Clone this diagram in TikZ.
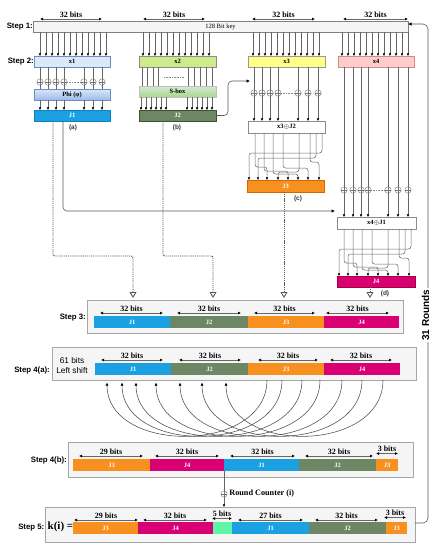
\documentclass[tikz,border=0pt]{standalone}
\usepackage{fontspec}
\setmainfont{Liberation Serif}
\setsansfont{Liberation Sans}
\usetikzlibrary{arrows.meta,calc}
\definecolor{cJone}{HTML}{1BA1E2}\definecolor{cJoneB}{HTML}{0E7FBF}
\definecolor{cJtwo}{HTML}{6D8764}\definecolor{cJtwoB}{HTML}{3A5431}
\definecolor{cJthree}{HTML}{F7901E}\definecolor{cJthreeB}{HTML}{D06A00}
\definecolor{cJfour}{HTML}{D80073}\definecolor{cJfourB}{HTML}{A50040}
\definecolor{cMint}{HTML}{60F5A8}
\definecolor{cXone}{HTML}{DAE8FC}\definecolor{cXoneB}{HTML}{6C8EBF}
\definecolor{cPhiB}{HTML}{9DBCEA}
\definecolor{cXtwo}{HTML}{CDEB8B}
\definecolor{cSA}{HTML}{D5E8D4}\definecolor{cSB}{HTML}{A8D88E}
\definecolor{cXthree}{HTML}{FFFF88}
\definecolor{cXfour}{HTML}{FFCCCC}\definecolor{cXfourB}{HTML}{D08A8A}
\tikzset{
 panel/.style={draw=black!35,fill=black!4,line width=0.8pt,inner sep=0pt,outer sep=0pt},
 keybar/.style={draw=black!50,fill=black!4,line width=0.5pt,inner sep=0pt,outer sep=0pt,font=\fontsize{6.5}{7}\selectfont},
 bar/.style={inner sep=0pt,outer sep=0pt,line width=0.3pt,text=white,font=\bfseries\fontsize{6.5}{7}\selectfont},
 xbox/.style={inner sep=0pt,outer sep=0pt,line width=0.5pt,font=\bfseries\fontsize{6.5}{7}\selectfont},
 steplbl/.style={font=\sffamily\bfseries\fontsize{7.8}{9}\selectfont,inner sep=0pt},
 bits/.style={font=\bfseries\fontsize{8}{9}\selectfont,inner sep=1.5pt,anchor=south},
 dimar/.style={draw=black!60,line width=0.6pt,{Latex[length=3pt,width=3pt,color=black]}-{Latex[length=3pt,width=3pt,color=black]}},
 bus/.style={draw=black!60,line width=0.5pt},
 busar/.style={bus,-{Latex[length=2.6pt,width=2.6pt,color=black]}},
 xorc/.style={circle,draw=black!55,fill=white,line width=0.4pt,minimum size=6.4pt,inner sep=0pt,outer sep=0pt,
   path picture={\draw[black!55,line width=0.4pt] (path picture bounding box.north) -- (path picture bounding box.south) (path picture bounding box.west) -- (path picture bounding box.east);}},
 dotsep/.style={draw=black!45,line width=0.4pt,dash pattern=on 0.8pt off 0.8pt},
 dotc/.style={draw=black!65,line width=0.9pt,dash pattern=on 1.2pt off 0.9pt,rounded corners=2pt,-{Triangle[open,length=6pt,width=7pt,color=black!65]}},
 conn/.style={draw=black!65,line width=0.6pt,rounded corners=4pt,-{Latex[length=3.5pt,width=3.5pt,color=black]}},
 curv/.style={draw=black!70,line width=0.55pt,-{Latex[length=3pt,width=3pt,color=black]}},
 tag/.style={font=\sffamily\bfseries\fontsize{6.5}{7}\selectfont,text=black!80,inner sep=0pt},
}
\newcommand\mybox[7]{\node[#6,anchor=north west,minimum width={#4pt-#2pt},minimum height={#5pt-#3pt}] (#1) at (#2,#3) {#7};}
\newcommand\dimarrow[5]{\coordinate (#1a) at (#2,#4); \coordinate (#1b) at (#3,#4); \draw[dimar] (#1a) -- (#1b) node[bits,midway] (#1t) {#5};}
\newcommand\mywire[5]{\draw[busar,rounded corners=2.5pt] ([xshift=#3pt]#1.south west) -- ++(0,#4) -| ([xshift=#5pt]#2.north west);}
\begin{document}
\begin{tikzpicture}[x=1pt,y=-1pt]
\useasboundingbox (0,0) rectangle (435,550);
% panels
\mybox{p3}{87}{300}{403}{333}{panel}{}
\mybox{p4a}{52}{347}{416}{380}{panel}{}
\mybox{p4b}{68}{442}{413}{477}{panel}{}
\mybox{p5}{45}{507}{415}{542}{panel}{}
% Step 1
\node[steplbl,anchor=east] (st1) at (33,26.5) {Step 1:};
\mybox{key}{33}{21}{408}{32}{keybar}{128 Bit key}
\dimarrow{da}{40}{102}{19}{32 bits}
\dimarrow{db}{143}{205}{19}{32 bits}
\dimarrow{dc}{252}{315}{19}{32 bits}
\dimarrow{dd}{343}{408}{19}{32 bits}
% Step 2 boxes
\node[steplbl,anchor=east] (st2) at (34,61.5) {Step 2:};
\mybox{x1}{34}{56}{110}{67}{xbox,draw=cXoneB,fill=cXone}{x1}
\mybox{x2}{139}{56}{216}{67}{xbox,draw=black!45,fill=cXtwo}{x2}
\mybox{x3}{248}{56}{325}{67}{xbox,draw=black!40,fill=cXthree}{x3}
\mybox{x4}{338}{56}{414}{67}{xbox,draw=cXfourB,fill=cXfour}{x4}
\foreach \b/\s in {x1/40,x2/143,x3/253,x4/342}{
 \foreach \k in {0,...,11}{
  \pgfmathsetmacro\xx{\s+6*\k}
  \coordinate (tmp) at (\xx,0);
  \draw[busar] (key.south -| tmp) -- (\b.north -| tmp);
 }}
% x1 branch
\mybox{phi}{34}{89}{110}{100}{xbox,draw=cXoneB,top color=cXone,bottom color=cPhiB}{Phi (φ)}
\mybox{J1}{34}{110}{110}{121}{bar,draw=cJoneB,fill=cJone}{J1}
\foreach \x [count=\i] in {40,48,56,64,84,93,102}{
 \node[xorc] (oa\i) at (\x,82) {};
 \draw[bus] (x1.south -| oa\i) -- (oa\i.north);
 \draw[bus] (oa\i.south) -- (phi.north -| oa\i);
 \draw[busar] (phi.south -| oa\i) -- (J1.north -| oa\i);
}
\draw[dotsep] (oa4.east) -- (oa5.west);
% x2 branch
\mybox{sbox}{139}{86}{216}{97}{xbox,draw=black!25,top color=cSA,bottom color=cSB}{S-box}
\mybox{J2}{139}{110}{216}{121}{bar,draw=cJtwoB,fill=cJtwo}{J2}
\foreach \x in {142,147,153,158,188,194,200,206,212}{\coordinate (tmp) at (\x,0); \draw[bus] (x2.south -| tmp) -- (sbox.north -| tmp);}
\foreach \x in {141,146,151,156,161,166,187,192,197,202,207,212}{\coordinate (tmp) at (\x,0); \draw[busar] (sbox.south -| tmp) -- (J2.north -| tmp);}
\coordinate (ds1) at (164,77); \coordinate (ds2) at (184,77);
\draw[dotsep] (ds1) -- (ds2);
% x3 branch
\mybox{xj2}{248}{121}{325}{133}{xbox,draw=black!45,fill=white}{x3$\oplus$J2}
\mybox{J3}{247}{180}{324}{192}{bar,draw=cJthreeB,fill=cJthree}{J3}
\foreach \x [count=\i] in {254,262,270,278,298,308,318}{
 \node[xorc] (oc\i) at (\x,93) {};
 \draw[bus] (x3.south -| oc\i) -- (oc\i.north);
 \draw[busar] (oc\i.south) -- (xj2.north -| oc\i);
}
\draw[dotsep] (oc4.east) -- (oc5.west);
\coordinate (x3in) at (250,81);
\draw[conn] (J2.east) -- ++(12,0) |- (x3in);
% x4 branch
\mybox{xj1}{337}{217}{416}{229}{xbox,draw=black!45,fill=white}{x4$\oplus$J1}
\mybox{J4}{337}{276}{415}{287}{bar,draw=cJfourB,fill=cJfour}{J4}
\foreach \x [count=\i] in {344,353,361,368,388,398,408}{
 \node[xorc] (od\i) at (\x,190) {};
 \draw[bus] (x4.south -| od\i) -- (od\i.north);
 \draw[busar] (od\i.south) -- (xj1.north -| od\i);
}
\draw[dotsep] (od4.east) -- (od5.west);
\coordinate (x4in) at (335,211);
\coordinate (ja) at (63,0);
\draw[conn] (J1.south -| ja) |- (x4in);
% wiring
\foreach \a/\b/\c in {7/34/20,16/38/41,25/41/51,35/35/61,51/39/31,62/29/72,68/25/11,74/20/2}{
 \mywire{xj2}{J3}{\a}{\b}{\c}
 \mywire{xj1}{J4}{\a}{\b}{\c}
}
% tags
\node[tag] (ta) at (73,127.5) {(a)};
\node[tag] (tb) at (177,127.5) {(b)};
\node[tag] (tc) at (298,198.5) {(c)};
\node[tag] (td) at (385,294) {(d)};
% dotted connectors
\coordinate (t1) at (133,298); \coordinate (c53) at (53,0);
\draw[dotc] (J1.south -| c53) -- ++(0,135) -| (t1);
\coordinate (t2) at (213,298); \coordinate (c163) at (163,0);
\draw[dotc] (J2.south -| c163) -- ++(0,135) -| (t2);
\coordinate (t3) at (284,298);
\draw[dotc] (J3.south -| t3) -- (t3);
\coordinate (t4) at (370,298);
\draw[dotc] (J4.south -| t4) -- (t4);
% Step 3
\node[steplbl,anchor=east] (st3) at (86,318) {Step 3:};
\mybox{s3a}{94}{316}{170}{328}{bar,fill=cJone}{J1}
\mybox{s3b}{170}{316}{248}{328}{bar,fill=cJtwo}{J2}
\mybox{s3c}{248}{316}{324}{328}{bar,fill=cJthree}{J3}
\mybox{s3d}{324}{316}{399}{328}{bar,fill=cJfour}{J4}
\dimarrow{ea}{100}{163}{313}{32 bits}
\dimarrow{eb}{177}{241}{313}{32 bits}
\dimarrow{ec}{254}{315}{313}{32 bits}
\dimarrow{ed}{326}{389}{313}{32 bits}
% Step 4a
\node[steplbl,anchor=east] (st4a) at (50,370) {Step 4(a):};
\node[font=\sffamily\fontsize{8.3}{10}\selectfont,align=center,inner sep=0pt] (lsh) at (72,366) {61 bits\\Left shift};
\mybox{s4a}{95}{363}{171}{375}{bar,fill=cJone}{J1}
\mybox{s4b}{171}{363}{248}{375}{bar,fill=cJtwo}{J2}
\mybox{s4c}{248}{363}{324}{375}{bar,fill=cJthree}{J3}
\mybox{s4d}{324}{363}{400}{375}{bar,fill=cJfour}{J4}
\dimarrow{fa}{101}{163}{360}{32 bits}
\dimarrow{fb}{179}{241}{360}{32 bits}
\dimarrow{fc}{258}{318}{360}{32 bits}
\dimarrow{fd}{330}{392}{360}{32 bits}
% shift curves
\foreach \s/\e in {267/107,282/122,302/136,320/156,342/180,362/202,383/226}{
 \coordinate (cs) at (\s,0); \coordinate (ce) at (\e,0);
 \draw[curv] (p4a.south -| cs) .. controls +(0,74) and +(0,72) .. ([yshift=-2.5pt]p4a.south -| ce);
}
% Step 4b
\node[steplbl,anchor=east] (st4b) at (67,460) {Step 4(b):};
\mybox{u1}{73}{459}{150}{471}{bar,fill=cJthree}{J3}
\mybox{u2}{150}{459}{224}{471}{bar,fill=cJfour}{J4}
\mybox{u3}{224}{459}{299}{471}{bar,fill=cJone}{J1}
\mybox{u4}{299}{459}{376}{471}{bar,fill=cJtwo}{J2}
\mybox{u5}{376}{459}{398}{471}{bar,fill=cJthree}{J3}
\dimarrow{ga}{79}{143}{456}{29 bits}
\dimarrow{gb}{155}{219}{456}{32 bits}
\dimarrow{gc}{230}{295}{456}{32 bits}
\dimarrow{gd}{305}{373}{456}{32 bits}
\dimarrow{ge}{376}{398}{453.5}{3 bits}
% round counter
\node[xorc] (rc) at (224,494) {};
\draw[bus] (u3.south west) -- (rc.north);
\draw[busar] (rc.south) -- (p5.north -| rc);
\node[font=\bfseries\fontsize{8.2}{9}\selectfont,anchor=west,inner sep=0pt] (rct) at ([xshift=2pt]rc.east) {Round Counter (i)};
% Step 5
\node[steplbl,anchor=east] (st5) at (44.5,527.5) {Step 5:};
\node[font=\bfseries\fontsize{11}{12}\selectfont,anchor=west,inner sep=0pt] (ki) at (47.5,527) {k(i) =};
\mybox{v1}{73}{522}{138}{534}{bar,fill=cJthree}{J3}
\mybox{v2}{138}{522}{213}{534}{bar,fill=cJfour}{J4}
\mybox{v3}{213}{522}{232}{534}{bar,fill=cMint}{}
\mybox{v4}{232}{522}{309}{534}{bar,fill=cJone}{J1}
\mybox{v5}{309}{522}{386}{534}{bar,fill=cJtwo}{J2}
\mybox{v6}{386}{522}{407}{534}{bar,fill=cJthree}{J3}
\dimarrow{ha}{74}{138}{520}{29 bits}
\dimarrow{hb}{143}{207}{520}{32 bits}
\dimarrow{hc}{212}{232}{518.5}{5 bits}
\dimarrow{hd}{238}{303}{520}{27 bits}
\dimarrow{he}{315}{378}{520}{32 bits}
\dimarrow{hf}{384}{406}{517.5}{3 bits}
% loop
\coordinate (lp) at (428,523);
\draw[conn,rounded corners=5pt] (p5.east |- lp) -- (lp) |- ([yshift=-3pt]key.north east);
\node[rotate=90,fill=white,inner sep=1pt,font=\sffamily\bfseries\fontsize{10}{11}\selectfont] (rnd) at (425.5,315) {31 Rounds};
\end{tikzpicture}
\end{document}
